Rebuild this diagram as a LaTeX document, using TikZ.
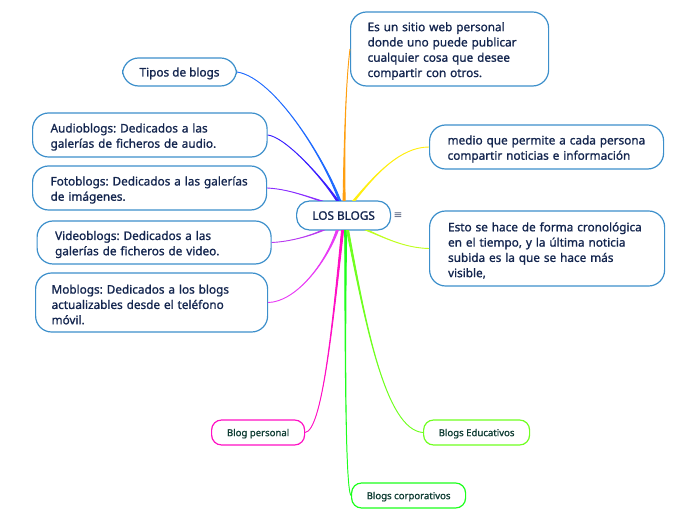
\documentclass[tikz,border=0pt]{standalone}
\usepackage{fontspec}
\setmainfont{Noto Sans}[FakeBold=1.1]
\newfontfamily\symbolfont{DejaVu Sans}
\usetikzlibrary{calc}

\definecolor{boxblue}{HTML}{3C8FCB}
\definecolor{textnavy}{HTML}{14264F}
\definecolor{textgreen}{HTML}{0F3D33}
\definecolor{linetipos}{HTML}{1F6AFF}
\definecolor{lineaudio}{HTML}{3A1FFF}
\definecolor{linefoto}{HTML}{8A2FFF}
\definecolor{linevideo}{HTML}{B83CF0}
\definecolor{linemoblog}{HTML}{E83CF5}
\definecolor{linepersonal}{HTML}{FF10C4}
\definecolor{linecorp}{HTML}{1CFF1C}
\definecolor{lineeduc}{HTML}{70FF20}
\definecolor{linesitio}{HTML}{FF9F10}
\definecolor{linemedio}{HTML}{FFEE10}
\definecolor{linecrono}{HTML}{C0FF20}

\tikzset{
  bubble/.style={draw=boxblue, line width=0.024cm, fill=white, rounded corners=0.32cm,
    anchor=west, inner xsep=0.36cm, inner ysep=0cm, align=left, text=textnavy,
    font=\fontsize{6.7}{8.7}\selectfont\frenchspacing},
  oneline/.style={text depth=0pt},
  textblock/.style={execute at begin node={\leavevmode\rule{0pt}{7.4pt}}},
  smallbubble/.style={line width=0.024cm, fill=white, rounded corners=0.2cm,
    anchor=west, inner xsep=0cm, inner ysep=0cm, minimum height=0.5cm, align=center,
    text=textgreen, text depth=0pt, font=\fontsize{5.45}{6.5}\selectfont\frenchspacing},
}

% tapered connector: colour, start, two control points, end
\newcommand{\branch}[5]{\filldraw[draw=#1, fill=#1, line width=0.018cm]
  ($(#2)+(-0.021,0)$) .. controls (#3) and (#4) .. (#5)
  .. controls (#4) and (#3) .. ($(#2)+(0.021,0)$) -- cycle;}

\begin{document}
\begin{tikzpicture}
    \useasboundingbox (0,0) rectangle (13.92,10.4);

    % Central topic
    \node [bubble, oneline, rounded corners=0.26cm, inner xsep=0cm, minimum width=1.88cm, minimum height=0.58cm, align=center] (root) at (5.92,6.09) {LOS BLOGS};
    \node [text=textnavy!75, font=\fontsize{6}{6}\selectfont\symbolfont, inner sep=0cm] (menu) at (7.96,6.09) {≡};

    % Left side
    \node [bubble, oneline, inner xsep=0.34cm, minimum height=0.56cm] (tipos) at (2.44,8.96) {Tipos de blogs};
    \node [bubble, textblock, text width=3.97cm, minimum height=0.88cm] (audio) at (0.64,7.70) {Audioblogs: Dedicados a las\\galerías de ficheros de audio.};
    \node [bubble, textblock, text width=3.96cm, minimum height=0.88cm] (foto) at (0.64,6.64) {Fotoblogs: Dedicados a las galerías\\de imágenes.};
    \node [bubble, textblock, text width=3.96cm, minimum height=0.86cm] (video) at (0.73,5.55) {Videoblogs: Dedicados a las\\galerías de ficheros de video.};
    \node [bubble, textblock, text width=4.00cm, minimum height=1.18cm, inner xsep=0.32cm] (moblog) at (0.70,4.35) {Moblogs: Dedicados a los blogs\\actualizables desde el teléfono\\móvil.};

    % Right side
    \node [bubble, textblock, text width=3.28cm, minimum height=1.48cm, inner xsep=0.34cm] (sitio) at (7.00,9.42) {Es un sitio web personal\\donde uno puede publicar\\cualquier cosa que desee\\compartir con otros.};
    \node [bubble, textblock, text width=3.96cm, minimum height=0.88cm, inner xsep=0.36cm] (medio) at (8.58,7.46) {medio que permite a cada persona\\compartir noticias e información};
    \node [bubble, textblock, text width=3.96cm, minimum height=1.50cm, inner xsep=0.37cm] (crono) at (8.58,5.43) {Esto se hace de forma cronológica\\en el tiempo, y la última noticia\\subida es la que se hace más\\visible,};

    % Bottom
    \node [smallbubble, draw=linepersonal, minimum width=1.86cm] (personal) at (4.22,1.75) {Blog personal};
    \node [smallbubble, draw=lineeduc, minimum width=2.12cm] (educ) at (8.46,1.75) {Blogs Educativos};
    \node [smallbubble, draw=linecorp, minimum width=2.28cm] (corp) at (7.02,0.49) {Blogs corporativos};

    % Connectors
    \branch{linetipos}{root.105}{6.50,7.20}{5.50,8.84}{tipos.east}
    \branch{lineaudio}{root.113}{6.40,6.90}{5.70,7.66}{audio.east}
    \branch{linefoto}{root.148}{6.00,6.52}{5.70,6.62}{foto.east}
    \branch{linevideo}{root.215}{6.10,5.64}{5.70,5.56}{video.east}
    \branch{linemoblog}{root.247}{6.50,5.10}{5.90,4.36}{moblog.east}
    \branch{linepersonal}{root.266}{6.64,3.80}{6.44,1.80}{personal.east}
    \branch{linecorp}{root.278}{6.90,3.80}{6.90,0.60}{corp.west}
    \branch{lineeduc}{root.285}{7.30,4.00}{7.70,1.80}{educ.west}
    \branch{linesitio}{root.88}{6.88,7.60}{6.92,8.80}{sitio.west}
    \branch{linemedio}{root.55}{7.50,6.90}{8.00,7.46}{medio.west}
    \branch{linecrono}{root.-32}{7.70,5.64}{8.10,5.44}{crono.west}
\end{tikzpicture}
\end{document}
